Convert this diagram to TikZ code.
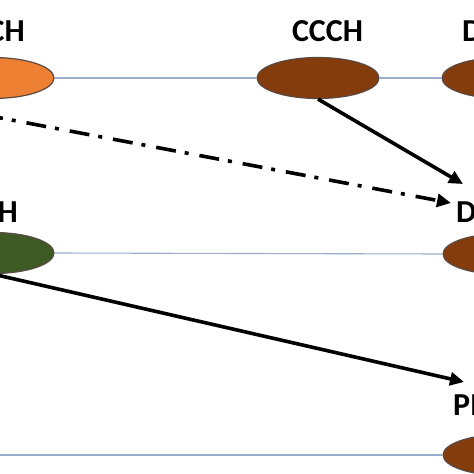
\documentclass[tikz,border=0pt]{standalone}
\usepackage{fontspec}
\setmainfont{Carlito}
\usetikzlibrary{shapes.geometric,arrows.meta}
\definecolor{corange}{HTML}{EE8033}
\definecolor{cbrown}{HTML}{843C0C}
\definecolor{cgreen}{HTML}{3E5A24}
\definecolor{cedge}{HTML}{5A4A44}
\definecolor{clink}{HTML}{98AECB}
\tikzset{
  oval/.style={ellipse, draw=cedge, line width=1.2pt, minimum width=122pt, minimum height=41pt, inner sep=0pt},
  lab/.style={font=\bfseries\fontsize{32}{32}\selectfont, inner sep=0pt},
  link/.style={draw=clink, line width=1.1pt},
  arr/.style={line width=3.6pt, -{Triangle[length=14pt,width=13pt]}},
  dashdot/.style={arr, dash pattern=on 20pt off 9pt on 4pt off 11pt}
}
\begin{document}
\begin{tikzpicture}[x=1pt,y=-1pt]
\useasboundingbox (0,0) rectangle (474,474);
\clip (0,0) rectangle (474,474);
\fill[white] (0,0) rectangle (474,474);
% ellipses
\node[oval, fill=corange] (e1) at (-7,78) {};
\node[oval, fill=cbrown] (e2) at (318,78) {};
\node[oval, fill=cbrown] (e3) at (503,78) {};
\node[oval, fill=cgreen] (g) at (-7,253) {};
\node[oval, fill=cbrown] (e5) at (504,254) {};
\node[oval, fill=cbrown] (e6) at (504,455) {};
\coordinate (l3) at (-20,455);
% labels
\node[lab, anchor=base east] (t1) at (25,41) {CH};
\node[lab, anchor=base] (t2) at (327.5,41) {CCCH};
\node[lab, anchor=base west] (t3) at (462,41) {D};
\node[lab, anchor=base east] (t4) at (18,222) {H};
\node[lab, anchor=base west] (t5) at (456,222) {D};
\node[lab, anchor=base west] (t6) at (453,415) {PI};
% horizontal links
\draw[link] (e1.east) -- (e2.west);
\draw[link] (e2.east) -- (e3.west);
\draw[link] (g.east) -- (e5.west);
\draw[link] (l3) -- (e6.west);
% arrows
\coordinate (a1) at (463,184);
\coordinate (s2) at (-60,106.5);
\coordinate (a2) at (451,203);
\coordinate (a3) at (464,382);
\draw[arr] (e2.south) -- (a1);
\draw[dashdot] (s2) -- (a2);
\draw[arr] (g.south) -- (a3);
\end{tikzpicture}
\end{document}
